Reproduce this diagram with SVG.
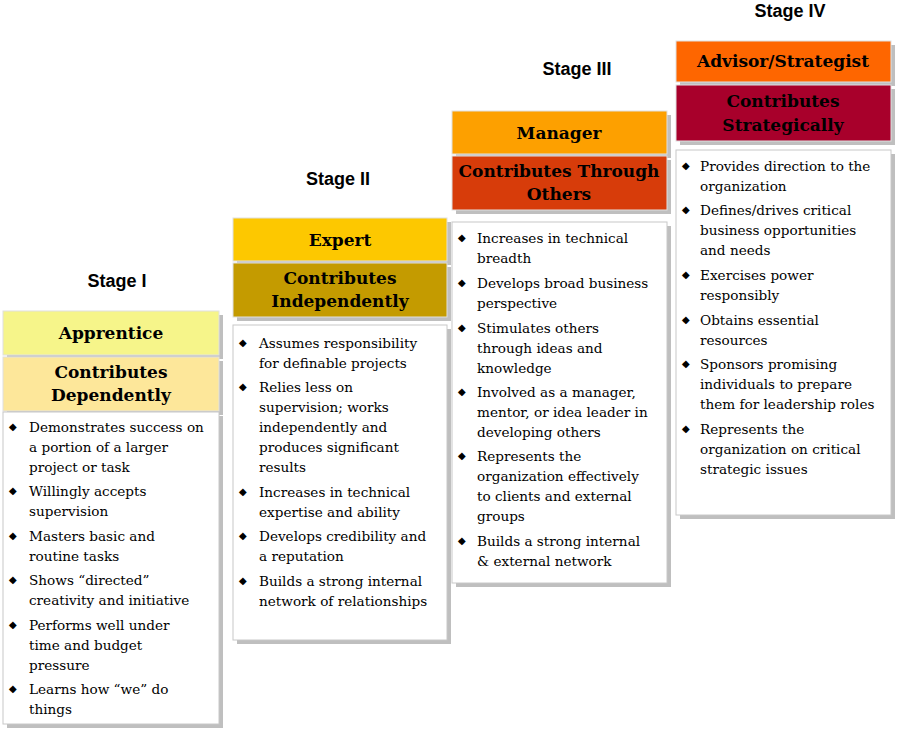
<svg xmlns="http://www.w3.org/2000/svg" width="898" height="729" viewBox="0 0 898 729">
<style>
.st{font-family:"Liberation Sans",Arial,sans-serif;font-weight:bold;font-size:18px;fill:#000;text-anchor:middle}
.h{font-family:"DejaVu Serif","Liberation Serif",serif;font-weight:bold;font-size:17px;fill:#000;text-anchor:middle}
.b{font-family:"DejaVu Serif","Liberation Serif",serif;font-size:13.6px;fill:#000}
.bl{font-family:"DejaVu Sans",sans-serif;font-size:10px;fill:#000}
.sh{fill:#bfbfbf}
.body{fill:#fff;stroke:#c8c8c8;stroke-width:1}
</style>
<rect width="898" height="729" fill="#fff"/>
<g id="stage1">
<text class="st" x="117" y="287">Stage I</text>
<rect class="sh" x="7" y="315" width="216" height="44"/>
<rect x="3" y="311" width="216" height="44" fill="#f6f58a" stroke="#e0e0e0"/>
<text class="h" x="111" y="339">Apprentice</text>
<rect class="sh" x="7" y="361" width="216" height="54"/>
<rect x="3" y="357" width="216" height="54" fill="#fde79a" stroke="#e0e0e0"/>
<text class="h" x="111" y="378">Contributes</text>
<text class="h" x="111" y="401">Dependently</text>
<rect class="sh" x="7" y="416" width="216" height="312"/>
<rect class="body" x="3" y="412" width="216" height="312"/>
<g class="b">
<text x="29" y="432">Demonstrates success on</text>
<text x="29" y="452">a portion of a larger</text>
<text x="29" y="472">project or task</text>
<text x="29" y="496">Willingly accepts</text>
<text x="29" y="516">supervision</text>
<text x="29" y="541">Masters basic and</text>
<text x="29" y="561">routine tasks</text>
<text x="29" y="585">Shows “directed”</text>
<text x="29" y="605">creativity and initiative</text>
<text x="29" y="630">Performs well under</text>
<text x="29" y="650">time and budget</text>
<text x="29" y="670">pressure</text>
<text x="29" y="694">Learns how “we” do</text>
<text x="29" y="714">things</text>
</g>
<g class="bl"><text x="9" y="430">◆</text><text x="9" y="494">◆</text><text x="9" y="539">◆</text><text x="9" y="583">◆</text><text x="9" y="628">◆</text><text x="9" y="692">◆</text></g>
</g>
<g id="stage2">
<text class="st" x="338" y="185">Stage II</text>
<rect class="sh" x="237" y="222" width="214" height="43"/>
<rect x="233" y="218" width="214" height="43" fill="#fdc800" stroke="#e0e0e0"/>
<text class="h" x="340" y="246">Expert</text>
<rect class="sh" x="237" y="267" width="214" height="54"/>
<rect x="233" y="263" width="214" height="54" fill="#c49b00" stroke="#e0e0e0"/>
<text class="h" x="340" y="284">Contributes</text>
<text class="h" x="340" y="307">Independently</text>
<rect class="sh" x="237" y="329" width="214" height="315"/>
<rect class="body" x="233" y="325" width="214" height="315"/>
<g class="b">
<text x="259" y="348">Assumes responsibility</text>
<text x="259" y="368">for definable projects</text>
<text x="259" y="392">Relies less on</text>
<text x="259" y="412">supervision; works</text>
<text x="259" y="432">independently and</text>
<text x="259" y="452">produces significant</text>
<text x="259" y="472">results</text>
<text x="259" y="497">Increases in technical</text>
<text x="259" y="517">expertise and ability</text>
<text x="259" y="541">Develops credibility and</text>
<text x="259" y="561">a reputation</text>
<text x="259" y="586">Builds a strong internal</text>
<text x="259" y="606">network of relationships</text>
</g>
<g class="bl"><text x="239" y="346">◆</text><text x="239" y="390">◆</text><text x="239" y="495">◆</text><text x="239" y="539">◆</text><text x="239" y="584">◆</text></g>
</g>
<g id="stage3">
<text class="st" x="577" y="75">Stage  III</text>
<rect class="sh" x="456" y="115" width="215" height="43"/>
<rect x="452" y="111" width="215" height="43" fill="#fda000" stroke="#e0e0e0"/>
<text class="h" x="559" y="139">Manager</text>
<rect class="sh" x="456" y="160" width="215" height="54"/>
<rect x="452" y="156" width="215" height="54" fill="#d73c0a" stroke="#e0e0e0"/>
<text class="h" x="559" y="177">Contributes Through</text>
<text class="h" x="559" y="200">Others</text>
<rect class="sh" x="456" y="226" width="215" height="361"/>
<rect class="body" x="452" y="222" width="215" height="361"/>
<g class="b">
<text x="477" y="243">Increases in technical</text>
<text x="477" y="263">breadth</text>
<text x="477" y="288">Develops broad business</text>
<text x="477" y="308">perspective</text>
<text x="477" y="333">Stimulates others</text>
<text x="477" y="353">through ideas and</text>
<text x="477" y="373">knowledge</text>
<text x="477" y="397">Involved as a manager,</text>
<text x="477" y="417">mentor, or idea leader in</text>
<text x="477" y="437">developing others</text>
<text x="477" y="461">Represents the</text>
<text x="477" y="481">organization effectively</text>
<text x="477" y="501">to clients and external</text>
<text x="477" y="521">groups</text>
<text x="477" y="546">Builds a strong internal</text>
<text x="477" y="566">&amp; external network</text>
</g>
<g class="bl"><text x="458" y="241">◆</text><text x="458" y="286">◆</text><text x="458" y="331">◆</text><text x="458" y="395">◆</text><text x="458" y="459">◆</text><text x="458" y="544">◆</text></g>
</g>
<g id="stage4">
<text class="st" x="790" y="17">Stage IV</text>
<rect class="sh" x="680" y="45" width="215" height="41"/>
<rect x="676" y="41" width="215" height="41" fill="#fe6600" stroke="#e0e0e0"/>
<text class="h" x="783" y="67">Advisor/Strategist</text>
<rect class="sh" x="680" y="89" width="215" height="56"/>
<rect x="676" y="85" width="215" height="56" fill="#a8002b" stroke="#e0e0e0"/>
<text class="h" x="783" y="107">Contributes</text>
<text class="h" x="783" y="131">Strategically</text>
<rect class="sh" x="680" y="154" width="215" height="365"/>
<rect class="body" x="676" y="150" width="215" height="365"/>
<g class="b">
<text x="700" y="171">Provides direction to the</text>
<text x="700" y="191">organization</text>
<text x="700" y="215">Defines/drives critical</text>
<text x="700" y="235">business opportunities</text>
<text x="700" y="255">and needs</text>
<text x="700" y="280">Exercises power</text>
<text x="700" y="300">responsibly</text>
<text x="700" y="325">Obtains essential</text>
<text x="700" y="345">resources</text>
<text x="700" y="369">Sponsors promising</text>
<text x="700" y="389">individuals to prepare</text>
<text x="700" y="409">them for leadership roles</text>
<text x="700" y="434">Represents the</text>
<text x="700" y="454">organization on critical</text>
<text x="700" y="474">strategic issues</text>
</g>
<g class="bl"><text x="682" y="169">◆</text><text x="682" y="213">◆</text><text x="682" y="278">◆</text><text x="682" y="323">◆</text><text x="682" y="367">◆</text><text x="682" y="432">◆</text></g>
</g>
</svg>
